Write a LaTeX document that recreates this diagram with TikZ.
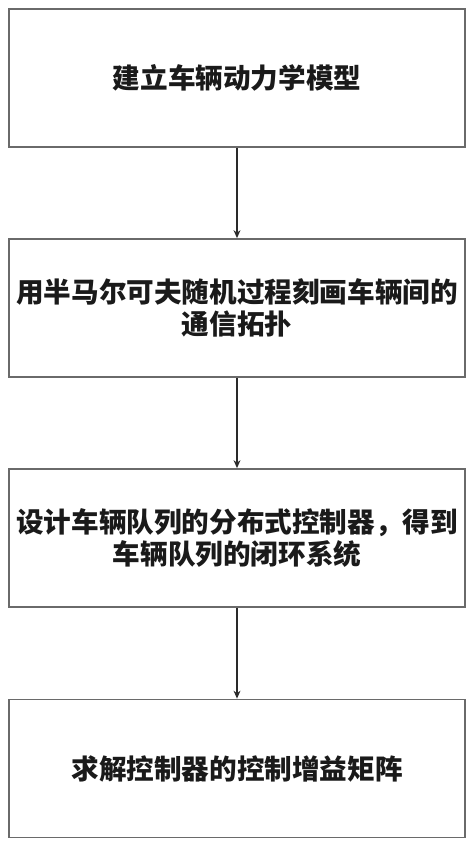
\documentclass[tikz,border=0pt]{standalone}
\usepackage{fontspec}
\newfontfamily\cjk{Noto Sans CJK SC}
\usetikzlibrary{arrows.meta}
\definecolor{boxgray}{HTML}{6A6A6A}
\definecolor{arrgray}{HTML}{2A2A2A}
\definecolor{txt}{HTML}{1A1A1A}
\tikzset{
  stepbox/.style={draw=boxgray, line width=1.8pt, minimum width=456pt, minimum height=138pt,
    inner sep=0pt, align=center, text=txt, font=\cjk\bfseries\fontsize{27.6}{32}\selectfont},
  flow/.style={draw=arrgray, line width=1.1pt, -{Stealth[length=8pt,width=7pt]}}
}
\begin{document}
\begin{tikzpicture}[x=1pt,y=-1pt]
\useasboundingbox (0,0) rectangle (474,848);
\node[stepbox] (s1) at (237,78) {建立车辆动力学模型};
\node[stepbox] (s2) at (237,308) {用半马尔可夫随机过程刻画车辆间的\\通信拓扑};
\node[stepbox] (s3) at (237,538) {设计车辆队列的分布式控制器，得到\\车辆队列的闭环系统};
\node[stepbox] (s4) at (237,768.5) {求解控制器的控制增益矩阵};
\draw[flow] (s1) -- (s2);
\draw[flow] (s2) -- (s3);
\draw[flow] (s3) -- (s4);
\end{tikzpicture}
\end{document}
